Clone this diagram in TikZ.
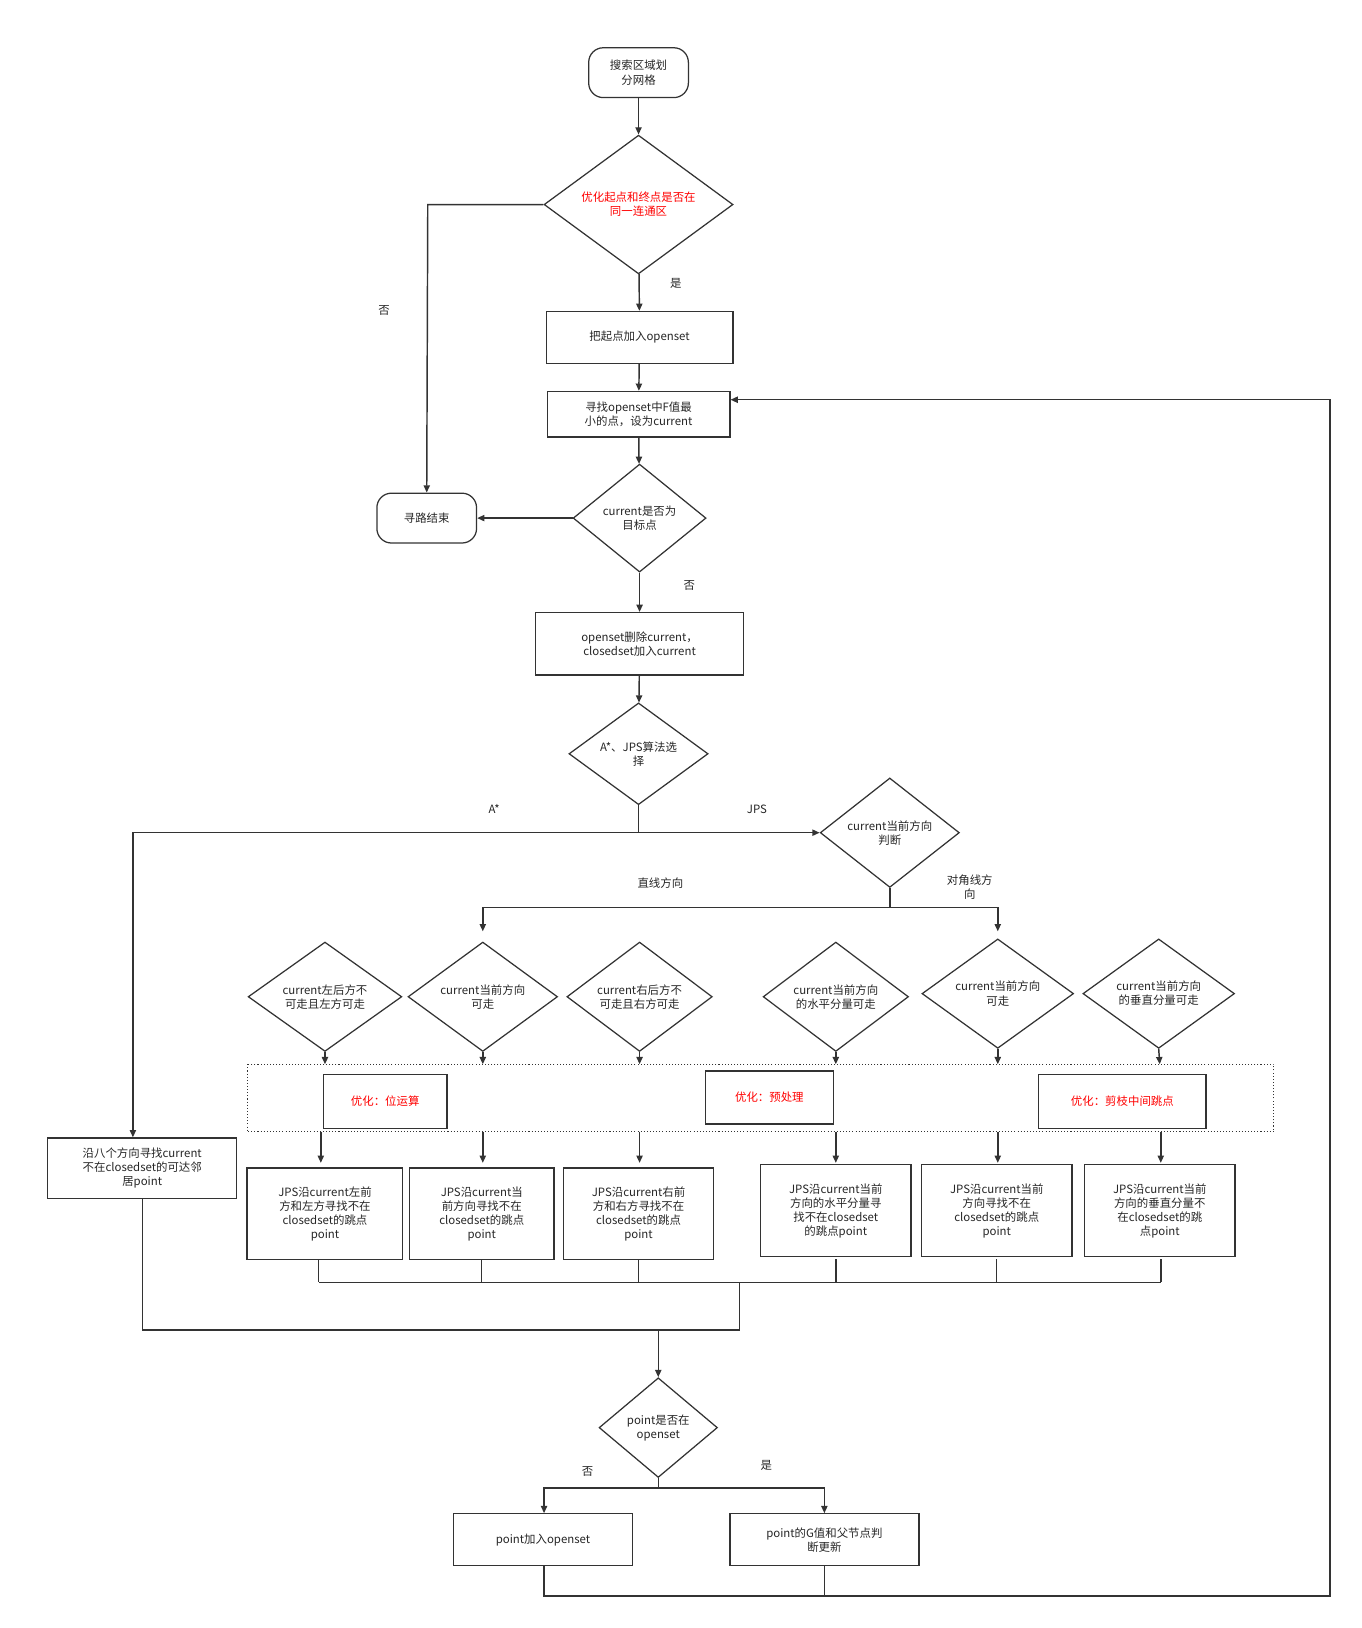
\documentclass[tikz,border=0pt]{standalone}
\usepackage{fontspec}
\setmainfont{Noto Sans CJK SC}
\usetikzlibrary{shapes.geometric,arrows.meta}
\begin{document}
\begin{tikzpicture}[x=1pt,y=-1pt,
 every node/.style={font=\fontsize{11}{13.5}\selectfont, text=black!85, align=center},
 ln/.style={draw=black!80, line width=1.4pt},
 ar/.style={ln,-{Triangle[length=7pt,width=6pt]}},
 box/.style={draw=black!80, line width=1.2pt, inner sep=0pt},
 rbox/.style={box, rounded corners=14pt},
 dia/.style={diamond, draw=black!80, line width=1.2pt, inner sep=0pt},
 red/.style={text=red}]
\useasboundingbox (0,0) rectangle (1311,1568);
\node[rbox, minimum width=96, minimum height=48] (s) at (615,70) {搜索区域划\\分网格};
\node[dia, minimum width=182, minimum height=102, text=red] (d1) at (615,197) {优化起点和终点是否在\\同一连通区};
\node[box, minimum width=180, minimum height=50] (b1) at (616,325) {把起点加入openset};
\node[box, minimum width=176, minimum height=44] (b2) at (615,399) {寻找openset中F值最\\小的点，设为current};
\node[dia, minimum width=128, minimum height=104] (d2) at (616,499) {current是否为\\目标点};
\node[rbox, minimum width=96, minimum height=48] (e) at (411,499) {寻路结束};
\node[box, minimum width=200, minimum height=60] (b3) at (616,620) {openset删除current，\\closedset加入current};
\node[dia, minimum width=134, minimum height=98] (d3) at (615,726) {A*、JPS算法选\\择};
\node[dia, minimum width=134, minimum height=98] (d4) at (857,802) {current当前方向\\判断};
\node[box, minimum width=182, minimum height=58] (ba) at (137,1125) {沿八个方向寻找current\\不在closedset的可达邻\\居point};
\node[dia, minimum width=148, minimum height=86] (q1) at (313,960) {current左后方不\\可走且左方可走};
\node[dia, minimum width=144, minimum height=82] (q2) at (465,960) {current当前方向\\可走};
\node[dia, minimum width=140, minimum height=86] (q3) at (616,960) {current右后方不\\可走且右方可走};
\node[dia, minimum width=140, minimum height=86] (q4) at (805,960) {current当前方向\\的水平分量可走};
\node[dia, minimum width=146, minimum height=86] (q5) at (961,957) {current当前方向\\可走};
\node[dia, minimum width=146, minimum height=86] (q6) at (1116,957) {current当前方向\\的垂直分量可走};
\draw[black!80, line width=1pt, dotted] (238,1025) rectangle (1227,1090);
\node[box, red, minimum width=119, minimum height=52] (r1) at (371,1061) {优化：位运算};
\node[box, red, minimum width=123, minimum height=51] (r2) at (741,1057) {优化：预处理};
\node[box, red, minimum width=161, minimum height=52] (r3) at (1081,1061) {优化：剪枝中间跳点};
\node[box, minimum width=150, minimum height=88] (j1) at (313,1169) {JPS沿current左前\\方和左方寻找不在\\closedset的跳点\\point};
\node[box, minimum width=139, minimum height=88] (j2) at (464,1169) {JPS沿current当\\前方向寻找不在\\closedset的跳点\\point};
\node[box, minimum width=145, minimum height=88] (j3) at (615,1169) {JPS沿current右前\\方和右方寻找不在\\closedset的跳点\\point};
\node[box, minimum width=145, minimum height=89] (j4) at (805,1166) {JPS沿current当前\\方向的水平分量寻\\找不在closedset\\的跳点point};
\node[box, minimum width=145, minimum height=89] (j5) at (960,1166) {JPS沿current当前\\方向寻找不在\\closedset的跳点\\point};
\node[box, minimum width=145, minimum height=89] (j6) at (1117,1166) {JPS沿current当前\\方向的垂直分量不\\在closedset的跳\\点point};
\node[dia, minimum width=114, minimum height=96] (d5) at (634,1375) {point是否在\\openset};
\node[box, minimum width=173, minimum height=50] (p1) at (523,1483) {point加入openset};
\node[box, minimum width=182, minimum height=50] (p2) at (794,1483) {point的G值和父节点判\\断更新};
% coordinates
\coordinate (c1) at (412,197);
\coordinate (c2) at (615,802);
\coordinate (c3) at (128,802);
\coordinate (c4) at (857,874);
\coordinate (m) at (712,1235);
\coordinate (m2) at (712,1281);
\coordinate (m3) at (137,1281);
\coordinate (m4) at (634,1281);
\coordinate (n) at (634,1433);
\coordinate (r) at (1281,1537);
\coordinate (r0) at (1281,385);
% connectors
\draw[ar] (s) -- (d1);
\draw[ar] (d1) -- (b1);
\draw[ar] (b1) -- (b2);
\draw[ar] (b2) -- (d2);
\draw[ar] (d1.west) -- (c1) -- (e.north);
\draw[ar] (d2) -- (e);
\draw[ar] (d2) -- (b3);
\draw[ar] (b3) -- (d3);
\draw[ln] (d3.south) -- (c2);
\draw[ar] (c2) -- (c3) -- (ba.north -| c3);
\draw[ar] (c2) -- (d4.west);
\draw[ln] (d4.south) -- (c4);
\draw[ln] (465,874) -- (961,874);
\draw[ar] (465,874) -- (465,897);
\draw[ar] (961,874) -- (961,897);
\foreach \q/\x in {q1/313,q2/465,q3/616,q4/805,q5/961,q6/1117}
  \draw[ar] (\q.south) -- (\x,1025);
\foreach \j/\x in {j1/309,j2/465,j3/616,j4/805,j5/961,j6/1118}
  \draw[ar] (\x,1090) -- (\x,1120);
\foreach \j/\x in {j1/307,j2/464,j3/615,j4/805,j5/960,j6/1118}
  \draw[ln] (\x,1213) -- (\x,1235);
\draw[ln] (307,1235) -- (1118,1235);
\draw[ln] (m) -- (m2) -- (m3) -- (ba.south -| m3);
\draw[ar] (m4) -- (d5.north);
\draw[ln] (d5.south) -- (n);
\draw[ar] (n) -- (524,1433) -- (p1.north -| 524,0);
\draw[ar] (n) -- (794,1433) -- (p2.north);
\draw[ln] (p2.south) -- (794,1537);
\draw[ar] (p1.south -| 524,0) -- (524,1537) -- (r) -- (r0) -- (b2.east |- r0);
% labels
\node at (370,299) {否};
\node at (651,273) {是};
\node at (664,564) {否};
\node at (476,779) {A*};
\node at (729,779) {JPS};
\node at (636,851) {直线方向};
\node at (934,854) {对角线方\\向};
\node at (566,1417) {否};
\node at (738,1411) {是};
\end{tikzpicture}
\end{document}
